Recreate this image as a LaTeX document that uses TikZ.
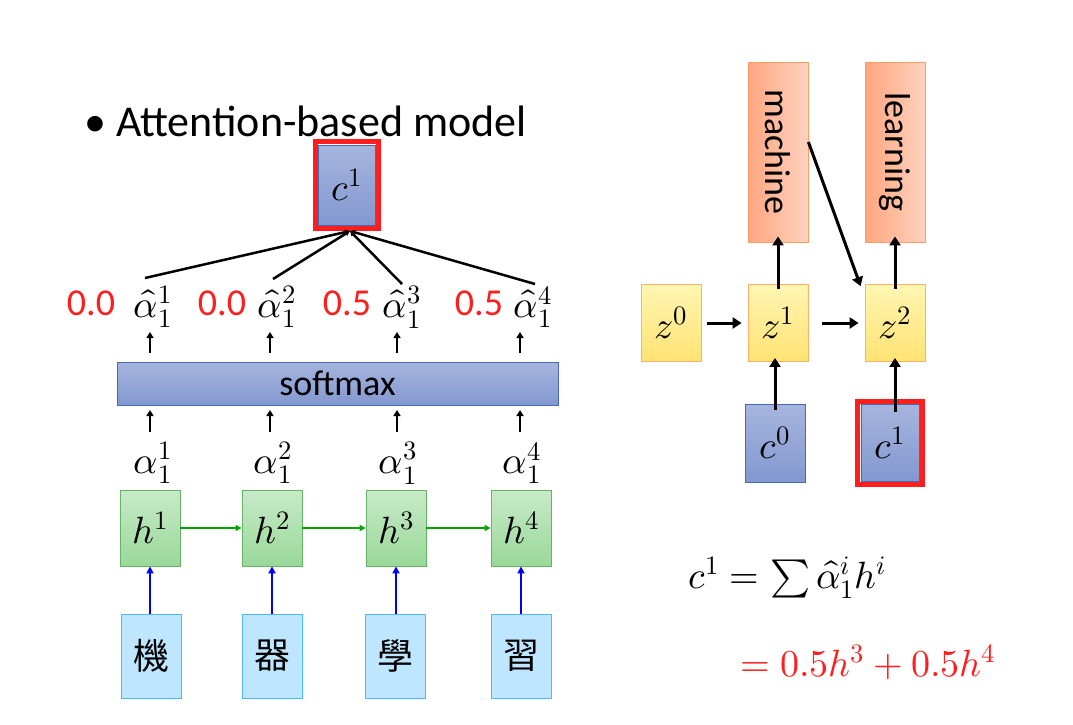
\documentclass[tikz,border=0pt]{standalone}
\usepackage{fontspec}
\usepackage{unicode-math}
\setmainfont{Carlito}
\setmathfont{Latin Modern Math}
\newfontfamily\cjk{Noto Sans CJK TC}
\usetikzlibrary{arrows.meta}
\definecolor{hred}{RGB}{255,30,30}
\definecolor{bluetop}{RGB}{166,181,222}
\definecolor{bluebot}{RGB}{130,152,207}
\definecolor{blueline}{RGB}{70,105,180}
\tikzset{
  box/.style={draw=blueline, line width=0.8pt, minimum width=60pt, minimum height=78pt,
    inner sep=0pt, font=\fontsize{38}{38}\selectfont},
  bluebox/.style={box, top color=bluetop, bottom color=bluebot},
  hbox/.style={box, draw=green!50!black!60, top color=green!45!gray!30, bottom color=green!45!gray!55, minimum height=76pt},
  wbox/.style={box, draw=blue!40!cyan!70, fill=blue!40!cyan!25, minimum height=84pt},
  zbox/.style={box, draw=orange!60, top color=orange!25!yellow!30, bottom color=orange!40!yellow!55, minimum height=77pt},
  obox/.style={box, draw=orange!70!red!60, left color=orange!60!red!50, right color=orange!60!red!25, minimum height=180pt},
  redframe/.style={draw=hred, line width=5pt},
  lbl/.style={font=\fontsize{38}{38}\selectfont, inner sep=0pt},
  up/.style={-{Triangle[length=6pt,width=7pt]}, line width=2.2pt},
  bigup/.style={-{Triangle[length=9pt,width=11pt]}, line width=3pt},
  link/.style={-{Triangle[length=5pt,width=5pt]}, line width=2.5pt},
  chain/.style={-{Triangle[length=6pt,width=6pt]}, line width=1.5pt, draw=green!65!black},
  inp/.style={-{Triangle[length=7pt,width=7pt]}, line width=1.8pt, draw=blue},
}
\begin{document}
\begin{tikzpicture}[x=1pt,y=-1pt]
\useasboundingbox[fill=white] (0,0) rectangle (1073,724);

% title
\node[anchor=west, font=\fontsize{44}{44}\selectfont, inner sep=0pt] (title) at (84,121) {\textbullet\ Attention-based model};

% context vector
\node[bluebox, minimum width=57pt, minimum height=80pt] (c) at (347,185) {$c^1$};
\draw[redframe] ([shift={(-3,-3)}]c.north west) rectangle ([shift={(3,3)}]c.south east);

% normalised weights
\node[lbl] (ah1) at (153,307) {$\hat\alpha_1^1$};
\node[lbl] (ah2) at (277,307) {$\hat\alpha_1^2$};
\node[lbl] (ah3) at (402,307) {$\hat\alpha_1^3$};
\node[lbl] (ah4) at (533,307) {$\hat\alpha_1^4$};
\node[lbl, text=hred] (w1) at (91,303) {0.0};
\node[lbl, text=hred] (w2) at (222,303) {0.0};
\node[lbl, text=hred] (w3) at (347,303) {0.5};
\node[lbl, text=hred] (w4) at (479,303) {0.5};
\coordinate (ct) at (350,231);
\draw[link] (145,278) -- (ct);
\draw[link] (273,279) -- (ct);
\draw[link] (402,284) -- (ct);
\draw[link] (535,284) -- (ct);

% softmax
\node[bluebox, minimum width=441pt, minimum height=43pt, font=\fontsize{36}{36}\selectfont] (sm) at (337.5,383.5) {softmax};
\foreach \x [count=\i] in {150,270,397,520}{
  \draw[up] (\x,353) -- (\x,332);
  \draw[up] (\x,432) -- (\x,410);
}

% raw scores
\node[lbl] (a1) at (153,463) {$\alpha_1^1$};
\node[lbl] (a2) at (273,463) {$\alpha_1^2$};
\node[lbl] (a3) at (398,463) {$\alpha_1^3$};
\node[lbl] (a4) at (522,463) {$\alpha_1^4$};

% encoder
\node[hbox] (h1) at (150,528) {$h^1$};
\node[hbox] (h2) at (272,528) {$h^2$};
\node[hbox] (h3) at (396,528) {$h^3$};
\node[hbox] (h4) at (521,528) {$h^4$};
\draw[chain] (h1) -- (h2);
\draw[chain] (h2) -- (h3);
\draw[chain] (h3) -- (h4);

% input words
\node[wbox, font=\cjk\fontsize{36}{36}\selectfont] (x1) at (151,656) {機};
\node[wbox, font=\cjk\fontsize{36}{36}\selectfont] (x2) at (272,656) {器};
\node[wbox, font=\cjk\fontsize{36}{36}\selectfont] (x3) at (395,656) {學};
\node[wbox, font=\cjk\fontsize{36}{36}\selectfont] (x4) at (521,656) {習};
\foreach \i in {1,...,4} \draw[inp] (x\i.north -| h\i) -- (h\i.south);

% decoder
\node[zbox] (z0) at (671,323) {$z^0$};
\node[zbox] (z1) at (778,323) {$z^1$};
\node[zbox] (z2) at (895,323) {$z^2$};
\node[obox, font=\fontsize{36}{36}\selectfont] (o1) at (778,152) {\rotatebox{-90}{machine}};
\node[obox, font=\fontsize{36}{36}\selectfont] (o2) at (895,152) {\rotatebox{-90}{learning}};
\node[bluebox] (c0) at (775,443) {$c^0$};
\node[bluebox, minimum width=58pt, minimum height=77pt] (c1) at (890,443) {$c^1$};
\draw[redframe] ([shift={(-3,-3)}]c1.north west) rectangle ([shift={(3,3)}]c1.south east);
\draw[bigup] ([xshift=6pt]z0.east) -- ([xshift=-6pt]z1.west);
\draw[bigup] ([xshift=14pt]z1.east) -- ([xshift=-6pt]z2.west);
\draw[bigup] ([yshift=-5pt]z1.north) -- ([yshift=6pt]o1.south);
\draw[bigup] ([yshift=-5pt]z2.north) -- ([yshift=6pt]o2.south);
\draw[bigup] ([yshift=-6pt]c0.north) -- ([yshift=4pt]c0.north |- z1.south);
\draw[bigup] ([yshift=-8pt]c1.north -| z2) -- ([yshift=4pt]z2.south);
\draw[bigup] ([yshift=10pt]o1.east) -- ([xshift=-4pt,yshift=-2pt]z2.north west);

% equation
\node[anchor=west, inner sep=0pt, font=\fontsize{38}{38}\selectfont] (eq1) at (688,578) {$c^1=\sum\hat\alpha_1^i h^i$};
\node[anchor=west, inner sep=0pt, font=\fontsize{38}{38}\selectfont, text=hred] (eq2) at (740,662) {$=0.5h^3+0.5h^4$};
\end{tikzpicture}
\end{document}
